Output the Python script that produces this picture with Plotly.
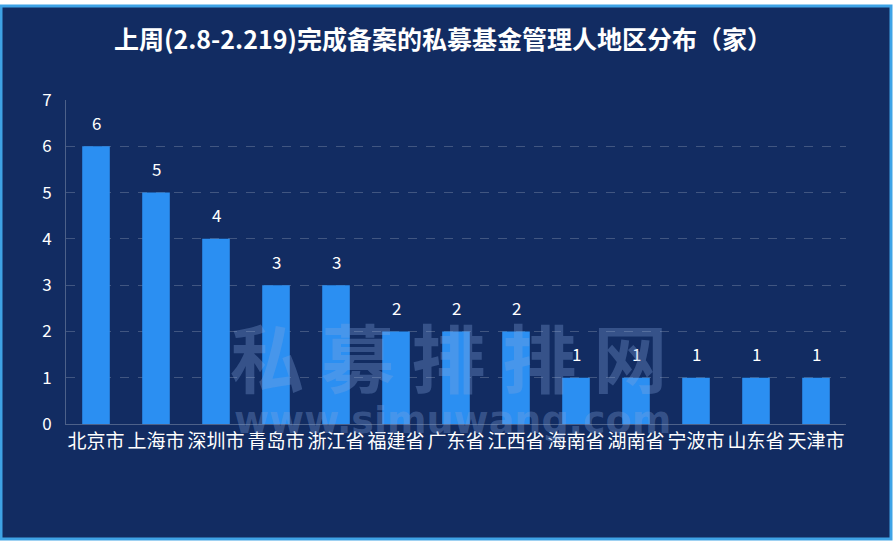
import plotly.graph_objects as go

categories = ["北京市", "上海市", "深圳市", "青岛市", "浙江省", "福建省", "广东省",
              "江西省", "海南省", "湖南省", "宁波市", "山东省", "天津市"]
values = [6, 5, 4, 3, 3, 2, 2, 2, 1, 1, 1, 1, 1]
title_text = "上周(2.8-2.219)完成备案的私募基金管理人地区分布（家）"

W, H = 893, 547
L, R, T, B = 66, 47, 100, 123
pw = W - L - R
ph = H - T - B

def px2x(p):
    return (p - L) / pw

def py2y(p):
    return (H - B - p) / ph

FONT = "Noto Sans CJK SC, Microsoft YaHei, sans-serif"

fig = go.Figure()
fig.add_trace(go.Bar(
    x=categories, y=values,
    marker=dict(color="#2b8ff2", line=dict(width=0)),
    width=0.46,
    hoverinfo="x+y",
))

for c, v in zip(categories, values):
    fig.add_annotation(x=c, y=v, text=str(v), showarrow=False, yshift=24,
                       font=dict(color="white", size=17, family=FONT))

# frame
fig.add_shape(type="rect", xref="paper", yref="paper",
              x0=px2x(1), x1=px2x(891), y0=py2y(539), y1=py2y(6),
              fillcolor="#122c62", line=dict(color="#3ea3e6", width=3), layer="below")

# watermark
fig.add_annotation(xref="paper", yref="paper", x=px2x(448), y=py2y(354),
                   xanchor="center", yanchor="middle",
                   text="<b>私 募 排 排 网</b>", showarrow=False,
                   font=dict(size=74, color="rgba(130,165,220,0.32)", family=FONT))
fig.add_annotation(xref="paper", yref="paper", x=px2x(452), y=py2y(420),
                   xanchor="center", yanchor="middle",
                   text="<b>www.simuwang.com</b>", showarrow=False,
                   font=dict(size=38, color="rgba(130,165,220,0.32)", family="DejaVu Sans"))

fig.update_layout(
    width=W, height=H,
    margin=dict(l=L, r=R, t=T, b=B),
    paper_bgcolor="white",
    plot_bgcolor="rgba(0,0,0,0)",
    showlegend=False,
    title=dict(text=f"<b>{title_text}</b>", x=443 / W, xanchor="center",
               y=1 - 40 / H, yanchor="middle",
               font=dict(size=25, color="white", family=FONT)),
    font=dict(family=FONT, color="white"),
)
fig.update_xaxes(
    showgrid=False, showline=True, linecolor="rgba(255,255,255,0.25)", linewidth=1,
    tickfont=dict(size=19, color="white", family=FONT), ticks="",
)
fig.update_yaxes(
    range=[0, 7], dtick=1, showgrid=True, gridcolor="rgba(255,255,255,0.2)",
    griddash="dash", gridwidth=1, zeroline=False,
    showline=True, linecolor="rgba(255,255,255,0.25)", linewidth=1,
    tickfont=dict(size=17, color="white", family=FONT), ticks="", ticklabelstandoff=10,
)

fig.write_html("out.html")
